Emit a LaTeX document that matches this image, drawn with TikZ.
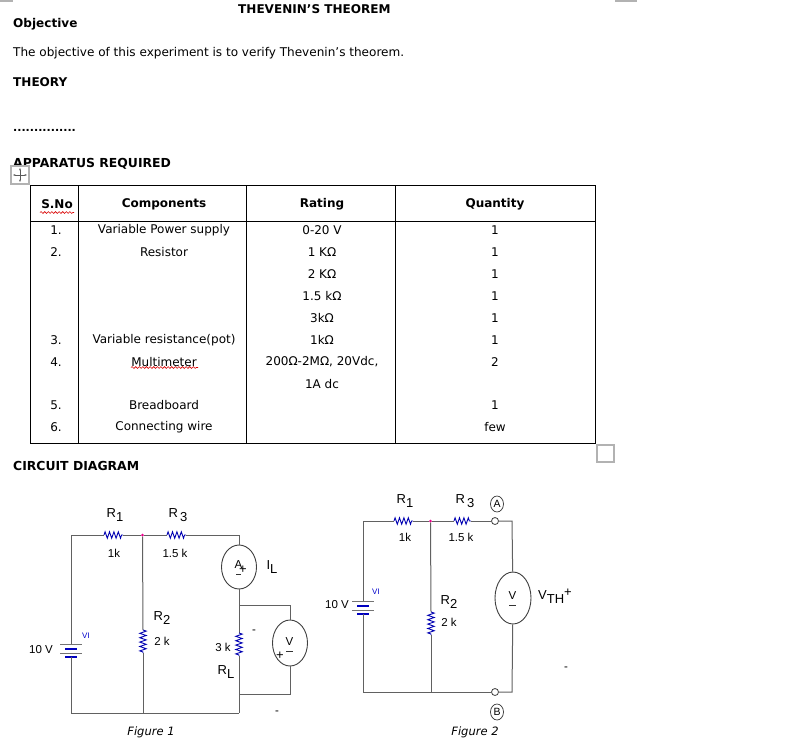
\documentclass[tikz,border=0pt]{standalone}
\usepackage{fontspec}
\setmainfont{DejaVu Sans}
\newfontfamily\circfont{Liberation Sans}
\usepackage{tikz}
\usetikzlibrary{decorations.pathmorphing,shapes.geometric,arrows.meta}
\tikzset{
  txt/.style={inner sep=0pt,yshift=-1pt,font=\fontsize{12.05}{13}\selectfont},
  head/.style={inner sep=0pt,yshift=-1pt,anchor=west,font=\fontsize{12.05}{13}\selectfont\bfseries},
  headwide/.style={head,font=\fontsize{12.4}{13}\selectfont\bfseries},
  cell/.style={inner sep=0pt,yshift=-0.8pt,font=\fontsize{12}{13}\selectfont},
  cellhead/.style={inner sep=0pt,yshift=-1pt,font=\fontsize{12}{13}\selectfont\bfseries},
  rule/.style={black,line width=1pt},
  squiggle/.style={red!85!black,line width=0.6pt,decorate,decoration={snake,amplitude=0.9pt,segment length=3.6pt}},
  wire/.style={black!62,line width=1pt},
  res/.style={blue!70!black,line width=0.9pt,decorate,decoration={zigzag,amplitude=3.2pt,segment length=4.4pt}},
  meter/.style={draw=black!75,fill=white,line width=0.9pt,ellipse,minimum width=35pt,inner sep=0pt},
  clab/.style={inner sep=0pt,font=\circfont\fontsize{13}{14}\selectfont},
  vlab/.style={inner sep=0pt,font=\circfont\fontsize{11.5}{12}\selectfont},
  blab/.style={inner sep=0pt,text=blue!80!black,font=\circfont\fontsize{8}{9}\selectfont},
  figlab/.style={inner sep=0pt,font=\fontsize{11.5}{13}\selectfont\itshape},
  term/.style={circle,draw=black!75,fill=white,line width=0.8pt,inner sep=0pt,minimum size=7pt},
  termlab/.style={ellipse,draw=black!80,line width=0.7pt,inner sep=0pt,minimum width=13pt,minimum height=16pt,font=\circfont\fontsize{10.5}{11}\selectfont},
  junc/.style={circle,fill=magenta,inner sep=0pt,minimum size=3pt},
  handle/.style={draw=black!30,line width=1.4pt},
  battery/.pic={
    \draw[black!55,line width=0.8pt] (-11,-5) -- (11,-5);
    \draw[blue!75!black,line width=1.3pt] (-6,0) -- (6,0);
    \draw[black!55,line width=0.8pt] (-11,4) -- (11,4);
    \draw[blue!75!black,line width=1.3pt] (-6,8) -- (6,8);
    \coordinate (-pos) at (0,-5);
    \coordinate (-neg) at (0,8);
  },
}
\begin{document}
\begin{tikzpicture}[x=1pt,y=-1pt]
\useasboundingbox[fill=white] (0,0) rectangle (808,753);
% window remains
\fill[black!30] (0,0) rectangle (13,1.5);
\fill[black!30] (615,0) rectangle (637,1.5);
% text above the table
\node[head] (title) at (238,8) {THEVENIN’S THEOREM};
\node[head] (objective) at (13,23) {Objective};
\node[txt,anchor=west] (objtext) at (13,52) {The objective of this experiment is to verify Thevenin’s theorem.};
\node[head] (theory) at (13,81) {THEORY};
\node[head,font=\fontsize{11}{13}\selectfont\bfseries] (dots) at (13,129) {...............};
\node[headwide] (apparatus) at (13,163) {APPARATUS REQUIRED};
\node[headwide] (circuit) at (13,465) {CIRCUIT DIAGRAM};
% table handles
\draw[handle,fill=white] (11,166) rectangle (29,184);
\draw[{Stealth[length=2.5pt]}-{Stealth[length=2.5pt]},black!65,line width=0.6pt] (13,175) -- (27,175);
\draw[{Stealth[length=2.5pt]}-{Stealth[length=2.5pt]},black!65,line width=0.6pt] (20,168) -- (20,182);
\draw[handle] (597,445) rectangle (614,462);
% table
\draw[rule] (30,185) rectangle (595,443);
\draw[rule] (30,221) -- (595,221);
\foreach \xx in {78,246,395} {
  \draw[rule] (\xx,185) -- (\xx,443);
}
\node[cellhead] (sno) at (57,203) {S.No};
\node[cellhead] (comp) at (164,203) {Components};
\node[cellhead] (rate) at (322,203) {Rating};
\node[cellhead] (qty) at (495,203) {Quantity};
\foreach \i/\yy/\sn/\cmp/\rt/\qt in {
  1/229/1./Variable Power supply/0-20 V/1,
  2/251/2./Resistor/1 KΩ/1,
  3/273//{}/2 KΩ/1,
  4/295//{}/1.5 kΩ/1,
  5/317//{}/3kΩ/1,
  6/339/3./Variable resistance(pot)/1kΩ/1,
  7/361/4./Multimeter/{200Ω-2MΩ, 20Vdc,}/2,
  8/383//{}/1A dc/{},
  9/404/5./Breadboard/{}/1,
  10/426/6./Connecting wire/{}/few%
} {
  \node[cell] (sno\i) at (56,\yy) {\sn};
  \node[cell] (comp\i) at (164,\yy) {\cmp};
  \node[cell] (rate\i) at (322,\yy) {\rt};
  \node[cell] (qty\i) at (495,\yy) {\qt};
}
\draw[squiggle] (40,212.5) -- (74,212.5);
\draw[squiggle] (131,367.5) -- (198,367.5);

% figure 1
\coordinate (tl) at (71,535);
\coordinate (bl) at (71,713);
\coordinate (r1a) at (104,535);
\coordinate (r1b) at (123,535);
\node[junc] (jt) at (142.5,535) {};
\coordinate (r3a) at (167,535);
\coordinate (r3b) at (186,535);
\coordinate (tr) at (239,535);
\coordinate (br) at (239,713);
\coordinate (jb) at (143,713);
\coordinate (r2a) at (143,630);
\coordinate (r2b) at (143,653);
\coordinate (rla) at (239,633);
\coordinate (rlb) at (239,656);
\coordinate (vt) at (239,605);
\coordinate (vb) at (239,694);
\coordinate (vtr) at (290,605);
\coordinate (vbr) at (290,694);
\pic (batone) at (71,649) {battery};
\draw[wire] (batone-pos) -- (tl) -- (r1a);
\draw[res] (r1a) -- (r1b);
\draw[wire] (r1b) -- (jt) -- (r3a);
\draw[res] (r3a) -- (r3b);
\draw[wire] (batone-neg) -- (bl) -- (br);
\draw[wire] (jt) -- (r2a);
\draw[res] (r2a) -- (r2b);
\draw[wire] (r2b) -- (jb);
\node[meter,minimum height=44pt] (amm) at (239,567) {};
\node[meter,minimum height=46pt] (vm) at (290,643) {};
\draw[wire] (r3b) -- (tr) -- (amm);
\draw[wire] (amm) -- (rla);
\draw[res] (rla) -- (rlb);
\draw[wire] (rlb) -- (br);
\draw[wire] (vt) -- (vtr) -- (vm);
\draw[wire] (vm) -- (vbr) -- (vb);
\node[vlab] (ammA) at (238.5,565) {A};
\node[clab] (ammplus) at (243,570) {+};
\draw[black!80,line width=0.7pt] (236,574.5) -- (241,574.5);
\node[vlab] (vmV) at (289.5,642) {V};
\draw[black!80,line width=0.7pt] (286,651) -- (293,651);
\node[clab] (vmplus) at (280,656) {+};
\node[clab] (il) at (272,567) {I\raisebox{-4pt}{L}};
\node[clab] (r1lab) at (115,515) {R\raisebox{-4pt}{1}};
\node[clab] (r3lab) at (178,515) {R\raisebox{-4pt}{\,3}};
\node[vlab] (r1val) at (114,553) {1k};
\node[vlab] (r3val) at (175,553) {1.5 k};
\node[clab] (r2lab) at (162,618) {R\raisebox{-4pt}{2}};
\node[vlab] (r2val) at (162,641) {2 k};
\node[vlab] (rlval) at (223,647) {3 k};
\node[clab] (rllab) at (226,672) {R\raisebox{-4pt}{L}};
\node[vlab] (v10a) at (41,650) {10 V};
\node[blab] (vi1) at (86,636) {VI};
\node[vlab] (mina) at (254,632) {-};
\node[vlab] (minb) at (277,713) {-};
\node[figlab] (fig1) at (151,732) {Figure 1};

% figure 2
\coordinate (ctl) at (363,521);
\coordinate (cbl) at (363,692);
\coordinate (cr1a) at (394,521);
\coordinate (cr1b) at (413,521);
\node[junc] (cjt) at (430.5,521) {};
\coordinate (cr3a) at (454,521);
\coordinate (cr3b) at (471,521);
\node[term] (ta) at (495,521) {};
\node[term] (tb) at (495,692) {};
\coordinate (ctr) at (512,521);
\coordinate (cbr) at (512,692);
\coordinate (cjb) at (431,692);
\coordinate (cr2a) at (431,612);
\coordinate (cr2b) at (431,635);
\pic (battwo) at (363,606) {battery};
\draw[wire] (battwo-pos) -- (ctl) -- (cr1a);
\draw[res] (cr1a) -- (cr1b);
\draw[wire] (cr1b) -- (cjt) -- (cr3a);
\draw[res] (cr3a) -- (cr3b);
\draw[wire] (cr3b) -- (ta);
\draw[wire] (battwo-neg) -- (cbl) -- (tb);
\draw[wire] (cjt) -- (cr2a);
\draw[res] (cr2a) -- (cr2b);
\draw[wire] (cr2b) -- (cjb);
\node[meter,minimum height=52pt,minimum width=36pt] (cvm) at (513,598) {};
\draw[wire] (ta) -- (ctr) -- (cvm);
\draw[wire] (cvm) -- (cbr) -- (tb);
\node[vlab] (cvmV) at (512.5,596) {V};
\draw[black!80,line width=0.7pt] (509,605) -- (516,605);
\node[termlab] (laba) at (497,504) {A};
\node[termlab] (labb) at (497,712) {B};
\node[clab] (cr1lab) at (405,501) {R\raisebox{-4pt}{1}};
\node[clab] (cr3lab) at (465,501) {R\raisebox{-4pt}{\,3}};
\node[vlab] (cr1val) at (405,537) {1k};
\node[vlab] (cr3val) at (461,537) {1.5 k};
\node[clab] (cr2lab) at (449,602) {R\raisebox{-4pt}{2}};
\node[vlab] (cr2val) at (449,622) {2 k};
\node[vlab] (v10b) at (337,605) {10 V};
\node[blab] (vi2) at (376,592) {VI};
\node[clab] (vthlab) at (555,596) {V\raisebox{-4pt}{TH}\raisebox{3pt}{+}};
\node[vlab] (minc) at (566,669) {-};
\node[figlab] (fig2) at (475,732) {Figure 2};
\end{tikzpicture}
\end{document}
